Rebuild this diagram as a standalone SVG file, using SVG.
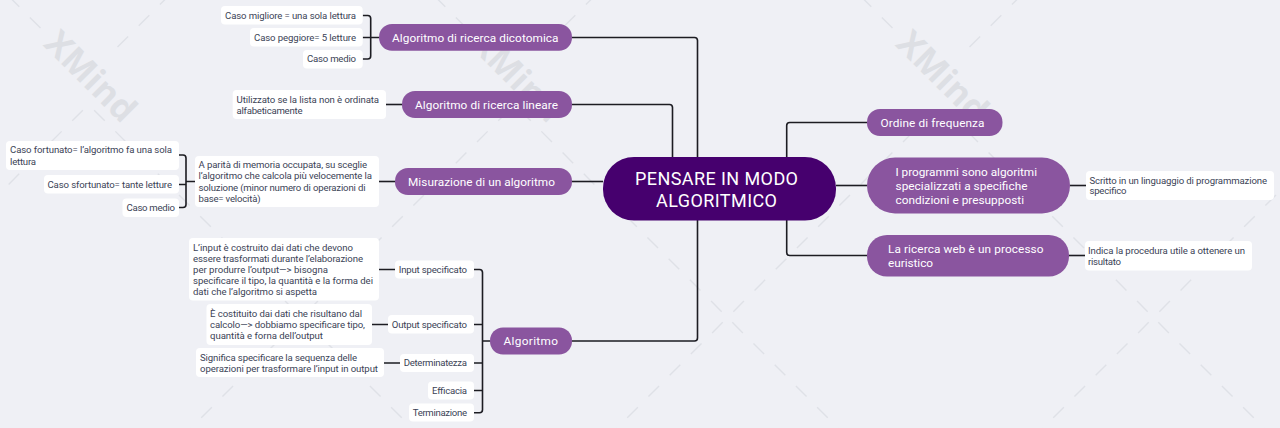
<svg xmlns="http://www.w3.org/2000/svg" width="1280" height="428" viewBox="0 0 1280 428">
<style>
.wl{fill:none;stroke:#dfe1e7;stroke-width:1.4;stroke-dasharray:15 15}
.wo{stroke-dashoffset:22}
.wt{font-family:"Open Sans","Noto Sans",sans-serif;font-weight:700;font-size:35px;fill:#dddfe4;text-anchor:middle}
.c{fill:none;stroke:#1c1c22;stroke-width:1.6;stroke-linejoin:round}
.n rect{fill:#fff}
.n text{font-family:Roboto,"Noto Sans",sans-serif;font-size:9.6px;fill:#3b4356}
.t rect{fill:#8a559f}
.t text{font-family:Roboto,"Noto Sans",sans-serif;font-size:11.8px;fill:#fff}
.r rect{fill:#46006e}
.r text{font-family:Roboto,"Noto Sans",sans-serif;font-size:18px;fill:#fff}
</style>
<rect width="1280" height="428" fill="#eff0f5"/>
<g id="watermark">
<path class="wl wo" d="M88.5 104.5L-341.5 534.5M88.5 104.5L518.5 534.5M514.5 104.5L84.5 534.5M514.5 104.5L944.5 534.5M940.5 104.5L510.5 534.5M940.5 104.5L1370.5 534.5M1366.5 104.5L936.5 534.5"/>
<path class="wl" d="M40.5 28L-15.5 -28M117.5 47L192.5 -28M466.5 28L410.5 -28M543.5 47L618.5 -28M892.5 28L836.5 -28M969.5 47L1044.5 -28"/>
<text class="wt" transform="translate(91 76) rotate(45) translate(0 12.5)">XMind</text>
<text class="wt" transform="translate(517 76) rotate(45) translate(0 12.5)">XMind</text>
<text class="wt" transform="translate(943 76) rotate(45) translate(0 12.5)">XMind</text>
</g>
<g id="connectors">
<path class="c" d="M572 37.5H694.5Q697.5 37.5 697.5 40.5V157"/>
<path class="c" d="M572 104.5H669.5Q672.5 104.5 672.5 107.5V157"/>
<path class="c" d="M572 181.5H603"/>
<path class="c" d="M572 341H694.5Q697.5 341 697.5 338V220"/>
<path class="c" d="M786.7 157V125.5Q786.7 122.5 789.7 122.5H867"/>
<path class="c" d="M836 185.5H867"/>
<path class="c" d="M786.7 220V252.5Q786.7 255.5 789.7 255.5H867"/>
<path class="c" d="M1070 185.5H1086"/>
<path class="c" d="M1069 255.5H1085"/>
<path class="c" d="M362.7 15.5H367.7Q370.7 15.5 370.7 18.5V56Q370.7 59 367.7 59H362.7M362.7 37.5H379"/>
<path class="c" d="M386 104.5H402"/>
<path class="c" d="M379 181.5H395"/>
<path class="c" d="M179 155H183Q186 155 186 158V204.5Q186 207.5 183 207.5H179M179 184.5H186M186 181.5H195"/>
<path class="c" d="M474 269.5H479.5Q482.5 269.5 482.5 272.5V409.7Q482.5 412.7 479.5 412.7H474M474 324.5H482.5M474 363H482.5M474 390.5H482.5M482.5 341H490"/>
<path class="c" d="M379 269.5H395M372 324.5H388M384 363H400"/>
</g>
<g id="root" class="r"><rect x="603" y="157" width="233" height="63.5" rx="31"/>
<text x="635" y="184.5" textLength="163">PENSARE IN MODO</text><text x="656" y="206.5" textLength="121">ALGORITMICO</text></g>
<g id="topic-dicotomica" class="t"><rect x="379" y="24" width="193" height="26.7" rx="13"/><text x="392" y="41.8" textLength="166.5">Algoritmo di ricerca dicotomica</text></g>
<g id="topic-lineare" class="t"><rect x="402" y="91" width="170" height="27" rx="13"/><text x="415" y="108.8" textLength="143">Algoritmo di ricerca lineare</text></g>
<g id="topic-misurazione" class="t"><rect x="395" y="168" width="177" height="27" rx="13"/><text x="408" y="185.8" textLength="147">Misurazione di un algoritmo</text></g>
<g id="topic-algoritmo" class="t"><rect x="490" y="327.5" width="82" height="27" rx="13"/><text x="503.5" y="345.3" textLength="54.5">Algoritmo</text></g>
<g id="topic-ordine" class="t"><rect x="867" y="109" width="135.5" height="27" rx="13"/><text x="880.5" y="126.8" textLength="104">Ordine di frequenza</text></g>
<g id="topic-programmi" class="t"><rect x="867" y="157.5" width="203" height="56" rx="28"/><text x="895.5" y="175.8" textLength="141.5">I programmi sono algoritmi</text><text x="895.5" y="189.8" textLength="132">specializzati a specifiche</text><text x="895.5" y="204.3" textLength="128.5">condizioni e presupposti</text></g>
<g id="topic-ricerca" class="t"><rect x="867" y="235" width="202" height="41.5" rx="20"/><text x="888" y="253.3" textLength="155.5">La ricerca web è un processo</text><text x="888" y="267.3" textLength="45">euristico</text></g>
<g id="note-migliore" class="n"><rect x="221" y="6" width="141.7" height="18.5" rx="4"/><text x="225" y="18.8" textLength="131">Caso migliore = una sola lettura</text></g>
<g id="note-peggiore" class="n"><rect x="250" y="28" width="112.7" height="18.5" rx="4"/><text x="254" y="40.8" textLength="102">Caso peggiore= 5 letture</text></g>
<g id="note-medio1" class="n"><rect x="303" y="50" width="59.7" height="18.5" rx="4"/><text x="307" y="62.3" textLength="49">Caso medio</text></g>
<g id="note-utilizzato" class="n"><rect x="232.7" y="90" width="153.3" height="29" rx="4"/><text x="236.5" y="102.8" textLength="142.5">Utilizzato se la lista non è ordinata</text><text x="236.5" y="113.8" textLength="66">alfabeticamente</text></g>
<g id="note-fortunato" class="n"><rect x="6" y="141" width="173" height="29" rx="4"/><text x="10" y="153.3" textLength="162">Caso fortunato= l’algoritmo fa una sola</text><text x="10" y="164.8" textLength="26">lettura</text></g>
<g id="note-sfortunato" class="n"><rect x="44" y="175" width="135" height="18.5" rx="4"/><text x="47.5" y="187.8" textLength="124.5">Caso sfortunato= tante letture</text></g>
<g id="note-medio2" class="n"><rect x="122.5" y="198.5" width="56.5" height="18.5" rx="4"/><text x="126.5" y="210.8" textLength="48.5">Caso medio</text></g>
<g id="note-parita" class="n"><rect x="195" y="156" width="184" height="51" rx="4"/><text x="198.5" y="168.3" textLength="168.5">A parità di memoria occupata, su sceglie</text><text x="198.5" y="179.3" textLength="173.5">l’algoritmo che calcola più velocemente la</text><text x="198.5" y="190.8" textLength="167">soluzione (minor numero di operazioni di</text><text x="198.5" y="201.8" textLength="62">base= velocità)</text></g>
<g id="note-input-desc" class="n"><rect x="189" y="238" width="190" height="62.5" rx="4"/><text x="193" y="250.8" textLength="160">L’input è costruito dai dati che devono</text><text x="193" y="261.8" textLength="170">essere trasformati durante l’elaborazione</text><text x="193" y="272.8" textLength="135">per produrre l’output—&gt; bisogna</text><text x="193" y="284.3" textLength="180">specificare il tipo, la quantità e la forma dei</text><text x="193" y="295.3" textLength="124">dati che l’algoritmo si aspetta</text></g>
<g id="note-input" class="n"><rect x="395" y="260.5" width="79" height="18" rx="4"/><text x="398.7" y="272.8" textLength="68.3">Input specificato</text></g>
<g id="note-output-desc" class="n"><rect x="206.5" y="304" width="165.5" height="41" rx="4"/><text x="210" y="316.8" textLength="152">È costituito dai dati che risultano dal</text><text x="210" y="327.8" textLength="155">calcolo—&gt; dobbiamo specificare tipo,</text><text x="210" y="338.8" textLength="113">quantità e forna dell’output</text></g>
<g id="note-output" class="n"><rect x="388" y="315" width="86" height="18.5" rx="4"/><text x="391.7" y="327.8" textLength="75.3">Output specificato</text></g>
<g id="note-sequenza" class="n"><rect x="196" y="348" width="188" height="29" rx="4"/><text x="200" y="360.8" textLength="157">Significa specificare la sequenza delle</text><text x="200" y="372.3" textLength="178">operazioni per trasformare l’input in output</text></g>
<g id="note-determinatezza" class="n"><rect x="400" y="354" width="74" height="18" rx="4"/><text x="403.7" y="366.3" textLength="63.3">Determinatezza</text></g>
<g id="note-efficacia" class="n"><rect x="428" y="381.5" width="46" height="18" rx="4"/><text x="432" y="393.8" textLength="35">Efficacia</text></g>
<g id="note-terminazione" class="n"><rect x="409" y="403.5" width="65" height="18" rx="4"/><text x="412.7" y="416" textLength="54.3">Terminazione</text></g>
<g id="note-scritto" class="n"><rect x="1086" y="171" width="188" height="29" rx="4"/><text x="1089.5" y="183.8" textLength="177.5">Scritto in un linguaggio di programmazione</text><text x="1089.5" y="194.3" textLength="37">specifico</text></g>
<g id="note-indica" class="n"><rect x="1085" y="241" width="167" height="29.5" rx="4"/><text x="1088" y="254.3" textLength="157">Indica la procedura utile a ottenere un</text><text x="1088" y="265.3" textLength="33">risultato</text></g>
</svg>
